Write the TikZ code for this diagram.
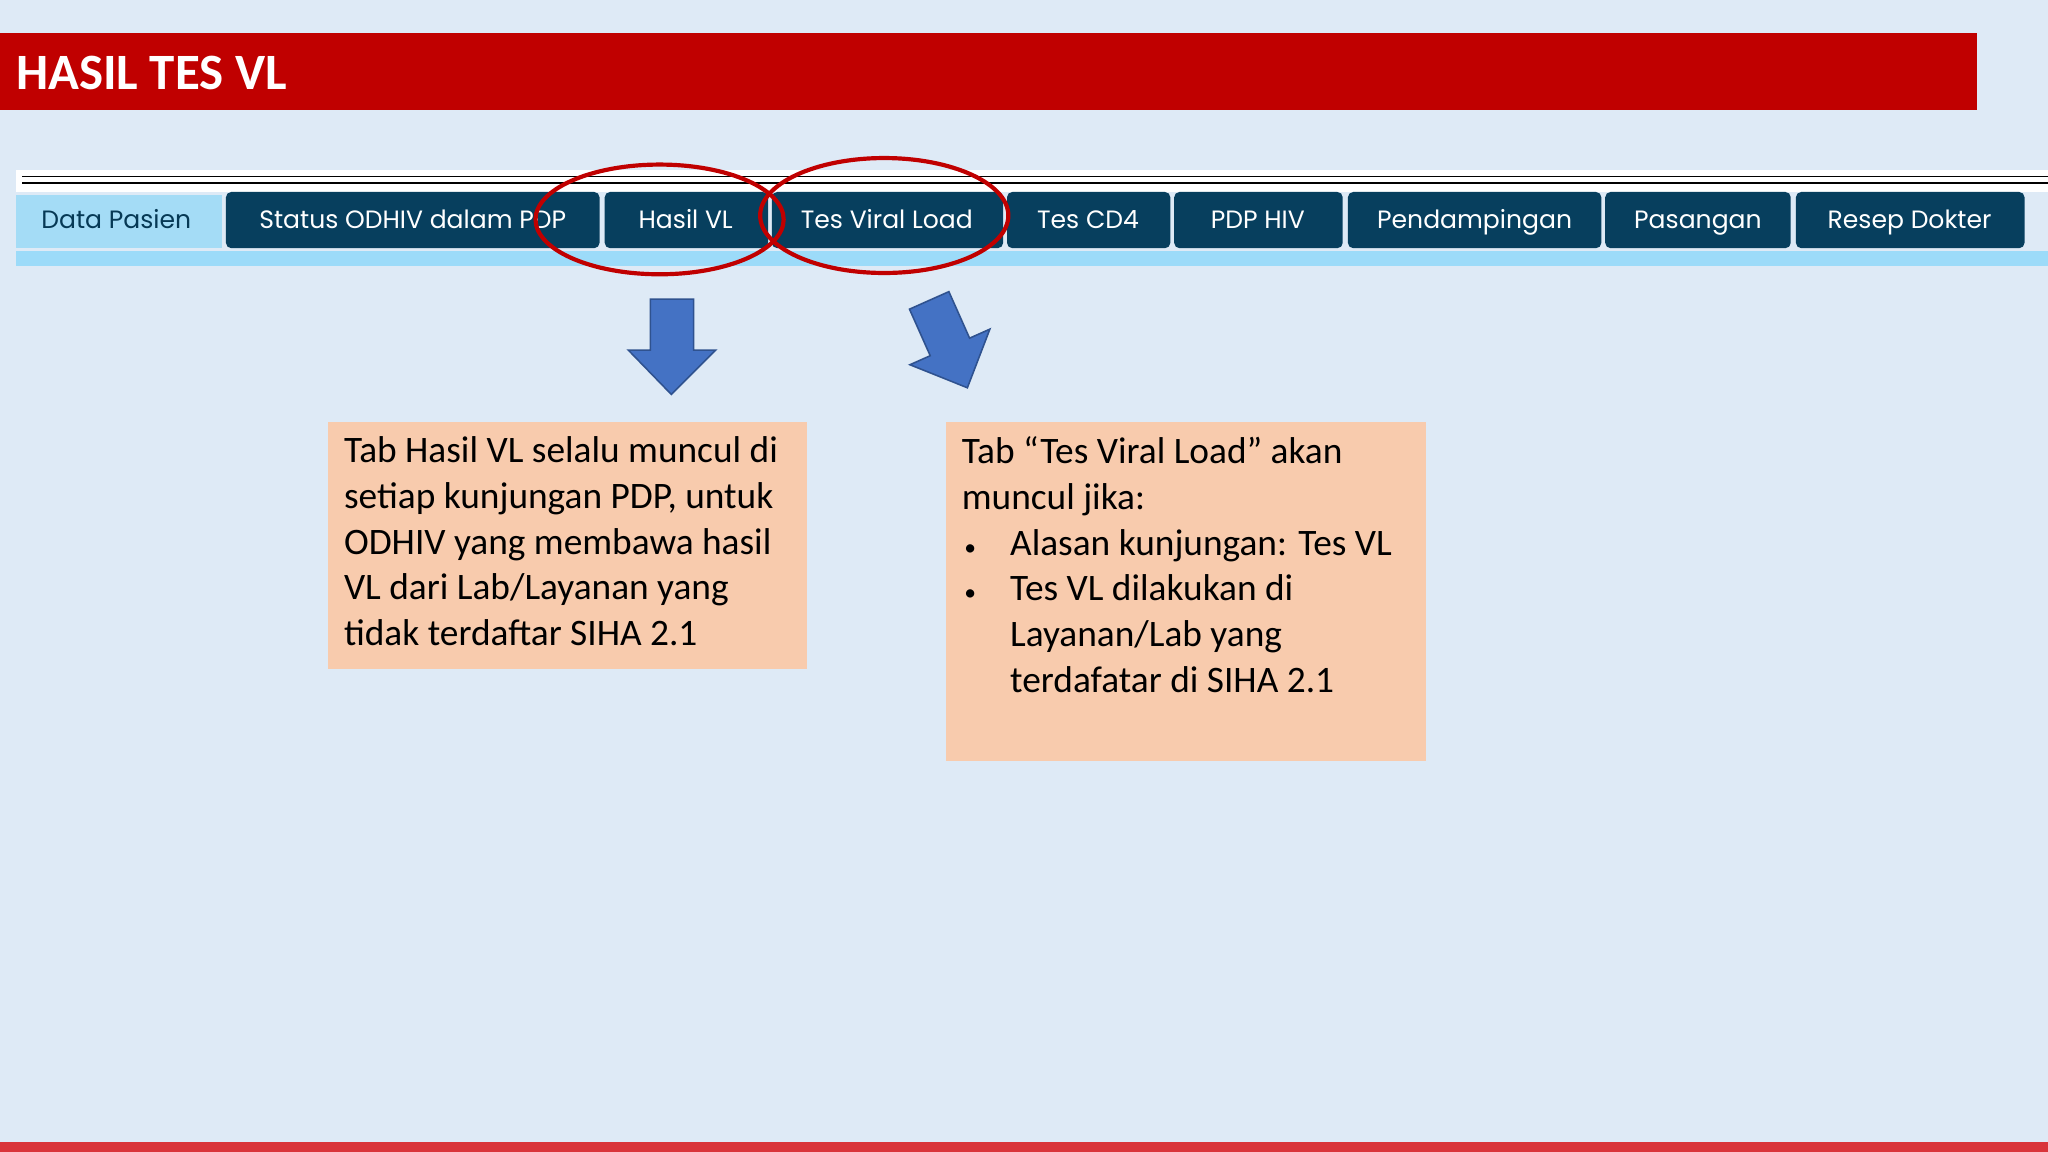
\documentclass[tikz,border=0pt]{standalone}
\usepackage{fontspec}
\setmainfont{Carlito}
\newfontfamily\tabfont{Poppins}
\definecolor{bg}{HTML}{DEEAF6}
\definecolor{redbar}{HTML}{C00000}
\definecolor{redline}{HTML}{D9343A}
\definecolor{tabdark}{HTML}{073F5E}
\definecolor{tablight}{HTML}{A4DCF6}
\definecolor{strip}{HTML}{9CDBF9}
\definecolor{boxfill}{HTML}{F8CBAD}
\definecolor{arrfill}{HTML}{4472C4}
\definecolor{arrdraw}{HTML}{2F528F}
\tikzset{
  tabbox/.style={fill=tabdark,rounded corners=2pt,text=white,font=\tabfont\fontsize{9.6}{11}\selectfont,anchor=base},
  infotext/.style={anchor=north west,inner sep=0pt,align=left,font=\fontsize{14.3}{17.5}\selectfont},
  hl/.style={draw=redbar,line width=1.6pt},
  blockarrow/.style={fill=arrfill,draw=arrdraw,line width=0.6pt}
}
\begin{document}
\begin{tikzpicture}[x=0.5pt,y=-0.5pt]
\fill[bg] (0,0) rectangle (1568,882);
\useasboundingbox (0,0) rectangle (1568,882);
% title bar
\fill[redbar] (0,25) rectangle (1514,84);
\node[anchor=west,inner sep=0pt,text=white,font=\bfseries\fontsize{19.5}{21}\selectfont] (title) at (12,56) {HASIL TES VL};
\fill[redline] (0,874) rectangle (1568,882);
% white strip with double lines
\fill[white] (12,130) rectangle (1568,147);
\draw[black,line width=0.5pt] (17,135) -- (1568,135);
\draw[black,line width=0.5pt] (17,140) -- (1568,140);
\fill[strip] (12,192) rectangle (1568,204);
% tabs
\fill[tablight] (12,149) rectangle (170,190);
\node[font=\tabfont\fontsize{9.6}{11}\selectfont,text=tabdark!90!black,anchor=base] (t1) at (89,175) {Data Pasien};
\path[tabbox] (173,147) rectangle (459,190); \node[tabbox,fill=none] (t2) at (316,175) {Status ODHIV dalam PDP};
\path[tabbox] (463,147) rectangle (588,190); \node[tabbox,fill=none] (t3) at (525,175) {Hasil VL};
\path[tabbox] (591,147) rectangle (768,190); \node[tabbox,fill=none] (t4) at (679,175) {Tes Viral Load};
\path[tabbox] (771,147) rectangle (896,190); \node[tabbox,fill=none] (t5) at (833,175) {Tes CD4};
\path[tabbox] (899,147) rectangle (1028,190); \node[tabbox,fill=none] (t6) at (963,175) {PDP HIV};
\path[tabbox] (1032,147) rectangle (1226,190); \node[tabbox,fill=none] (t7) at (1129,175) {Pendampingan};
\path[tabbox] (1229,147) rectangle (1371,190); \node[tabbox,fill=none] (t8) at (1300,175) {Pasangan};
\path[tabbox] (1375,147) rectangle (1550,190); \node[tabbox,fill=none] (t9) at (1462,175) {Resep Dokter};
% highlight ellipses
\draw[hl] (505,168) ellipse [x radius=95,y radius=42];
\draw[hl] (677,165) ellipse [x radius=95,y radius=44];
% arrows
\draw[blockarrow] (498,229) -- (531,229) -- (531,268) -- (548,268) -- (514,302) -- (481,268) -- (498,268) -- cycle;
\begin{scope}[shift={(726,264)},rotate=24]
\draw[blockarrow] (-16,-37) -- (17,-37) -- (17,2) -- (34,2) -- (0,36) -- (-33,2) -- (-16,2) -- cycle;
\end{scope}
% info boxes
\fill[boxfill] (251,323) rectangle (618,512);
\node[infotext] (b1) at (263,334)
{Tab Hasil VL selalu muncul di\\ setiap kunjungan PDP, untuk\\ ODHIV yang membawa hasil\\ VL dari Lab/Layanan yang\\ tidak terdaftar SIHA 2.1};
\fill[boxfill] (724,323) rectangle (1092,583);
\node[infotext] (b2) at (736,334)
{Tab “Tes Viral Load” akan\\ muncul jika:\\
\hspace*{1pt}\makebox[17.5pt][l]{\small•}Alasan kunjungan: Tes VL\\
\hspace*{1pt}\makebox[17.5pt][l]{\small•}Tes VL dilakukan di\\
\hspace*{18.5pt}Layanan/Lab yang\\
\hspace*{18.5pt}terdafatar di SIHA 2.1};
\end{tikzpicture}
\end{document}
